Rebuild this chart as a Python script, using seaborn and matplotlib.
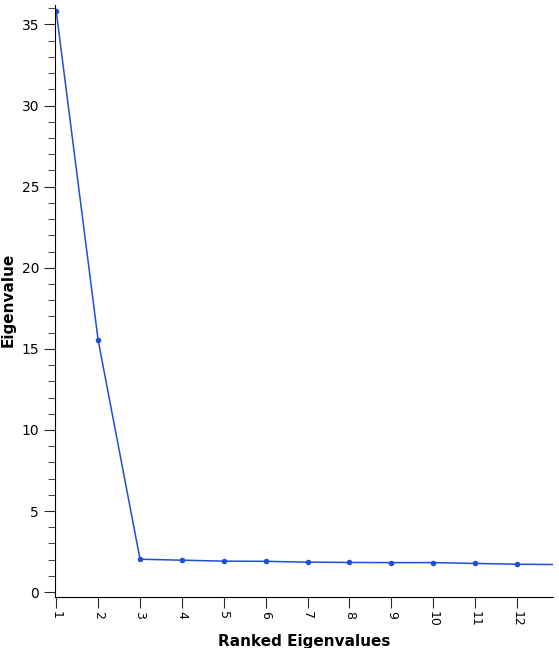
import matplotlib
matplotlib.use("Agg")
import matplotlib.pyplot as plt
import seaborn as sns
import pandas as pd
from matplotlib.ticker import MultipleLocator

ranks = [1, 2, 3, 4, 5, 6, 7, 8, 9, 10, 11, 12, 13]
eigenvalues = [35.8, 15.53, 2.03, 1.97, 1.91, 1.90, 1.85, 1.83, 1.82, 1.82, 1.77, 1.72, 1.70]
tick_labels = [str(i) for i in range(1, 13)]

df = pd.DataFrame({"rank": ranks, "eig": eigenvalues})

sns.set_style("white")
fig = plt.figure(figsize=(5.59, 6.48), dpi=100)
ax = fig.add_axes([55/559, 51/648, 498/559, 592/648])
sns.lineplot(data=df, x="rank", y="eig", ax=ax, color="#1f4fd8", lw=1.1,
             marker="o", markersize=4, markeredgewidth=0)
ax.set_xlim(0.97, 12.86)
ax.set_ylim(-0.3, 36.2)
ax.set_xticks(range(1, 13))
ax.set_xticklabels(tick_labels, rotation=-90, fontsize=9, color="black")
ax.yaxis.set_major_locator(MultipleLocator(5))
ax.yaxis.set_minor_locator(MultipleLocator(1))
ax.tick_params(axis="y", which="major", length=8, labelsize=10, left=True, labelcolor="black")
ax.tick_params(axis="y", which="minor", length=5, left=True)
ax.tick_params(axis="x", length=8, bottom=True, pad=2)
for s in ["top", "right"]:
    ax.spines[s].set_visible(False)
for s in ["left", "bottom"]:
    ax.spines[s].set_color("black")
ax.set_xlabel("Ranked Eigenvalues", fontsize=11, fontweight="bold", color="black")
ax.set_ylabel("Eigenvalue", fontsize=11, fontweight="bold", color="black")
ax.xaxis.set_label_coords((304 - 55) / 498, -(634 - 597) / 592)
ax.yaxis.set_label_coords(-(55 - 16) / 498, (597 - 300) / 592)
fig.savefig("out.png", dpi=100)
